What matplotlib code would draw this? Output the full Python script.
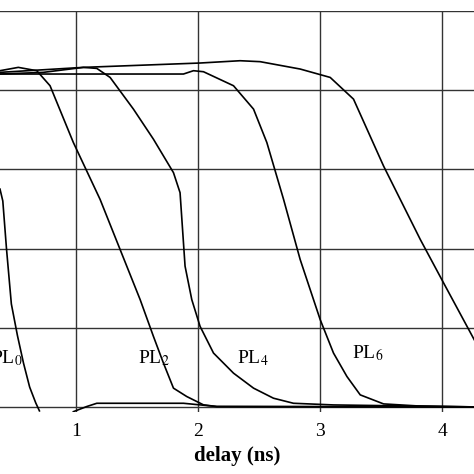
import matplotlib.pyplot as plt

# curves: delay (ns) vs. signal
a_x = [0.377, 0.527, 0.678, 0.787, 0.978, 1.197, 1.361, 1.525, 1.634, 1.716, 1.798, 1.907, 2.044, 2.153, 4.26]
a_y = [4.245, 4.287, 4.245, 4.055, 3.338, 2.62, 1.987, 1.355, 0.89, 0.553, 0.237, 0.131, 0.026, 0.005, 0.0]

b_x = [0.377, 0.732, 1.06, 1.17, 1.279, 1.47, 1.634, 1.798, 1.852, 1.893, 1.948, 2.016, 2.126, 2.29, 2.454, 2.617, 2.781, 3.109, 4.26]
b_y = [4.203, 4.224, 4.287, 4.274, 4.16, 3.76, 3.38, 2.958, 2.705, 1.777, 1.355, 1.017, 0.68, 0.426, 0.237, 0.11, 0.046, 0.025, 0.0]

c_x = [0.377, 1.88, 1.962, 2.044, 2.29, 2.454, 2.563, 2.7, 2.836, 3.0, 3.109, 3.219, 3.328, 3.519, 3.792, 4.26]
c_y = [4.203, 4.203, 4.245, 4.232, 4.055, 3.76, 3.338, 2.62, 1.861, 1.102, 0.68, 0.384, 0.152, 0.038, 0.013, 0.0]

d_x = [0.377, 1.06, 2.016, 2.344, 2.508, 2.836, 3.082, 3.273, 3.519, 3.82, 4.011, 4.262]
d_y = [4.224, 4.287, 4.342, 4.371, 4.359, 4.266, 4.16, 3.886, 3.042, 2.114, 1.565, 0.848]

e_x = [0.978, 1.088, 1.17, 1.88, 2.153, 4.26]
e_y = [-0.06, 0.005, 0.046, 0.046, 0.005, 0.0]

pl0_x = [0.377, 0.40, 0.43, 0.47, 0.52, 0.57, 0.62, 0.67, 0.70]
pl0_y = [2.75, 2.6, 2.0, 1.3, 0.9, 0.55, 0.25, 0.05, -0.05]

labels = ['PL$_0$', 'PL$_2$', 'PL$_4$', 'PL$_6$']
label_x = [0.30, 1.51, 2.32, 3.26]
label_y = [0.62, 0.62, 0.62, 0.68]

plt.rcParams['font.family'] = ['Liberation Serif', 'DejaVu Serif']
plt.rcParams['mathtext.fontset'] = 'stix'

fig = plt.figure(figsize=(4.74, 4.74), dpi=100)
ax = fig.add_axes([0.0, 0.131, 1.0, 0.846])
for xs, ys in [(a_x, a_y), (b_x, b_y), (c_x, c_y), (d_x, d_y), (e_x, e_y), (pl0_x, pl0_y)]:
    ax.plot(xs, ys, color='black', lw=1.2)
for t, x, y in zip(labels, label_x, label_y):
    ax.text(x, y, t, fontsize=14, ha='left', va='center')

ax.set_xlim(0.377, 4.26)
ax.set_ylim(-0.063, 5.0)
ax.set_xticks([1, 2, 3, 4])
ax.set_yticks([0, 1, 2, 3, 4, 5])
ax.set_yticklabels([])
ax.tick_params(length=0, labelsize=14, pad=8)
ax.grid(True, color='#333333', lw=1.0)
for s in ax.spines.values():
    s.set_visible(False)
ax.set_xlabel('delay (ns)', fontsize=15, fontweight='bold', labelpad=4)
fig.savefig('out.png', dpi=100)
